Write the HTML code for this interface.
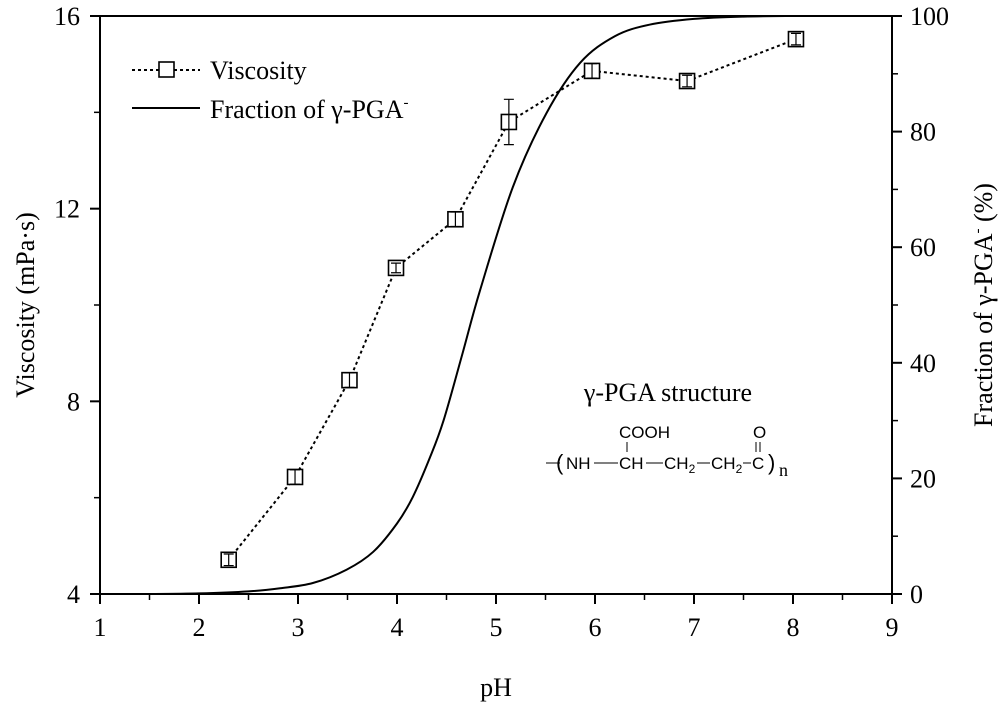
<!DOCTYPE html>
<html><head><meta charset="utf-8"><style>
body{margin:0;background:#fff}
svg{font-family:"Liberation Serif",serif}
.s{font-family:"Liberation Sans",sans-serif;font-size:17px}
</style></head><body>
<svg id="c" width="1000" height="702" xmlns="http://www.w3.org/2000/svg">
<rect x="100" y="16" width="792" height="578" fill="none" stroke="#000" stroke-width="2"/>
<g id="ax"></g>
<g id="marks"></g>
<text x="496" y="696" font-size="26" text-anchor="middle">pH</text>
<text transform="translate(34,305) rotate(-90)" font-size="26" text-anchor="middle">Viscosity (mPa·s)</text>
<text transform="translate(992,305) rotate(-90)" font-size="26" text-anchor="middle">Fraction of γ-PGA<tspan font-size="15" dy="-10">-</tspan><tspan dy="10"> (%)</tspan></text>
<g>
<line x1="132" y1="70" x2="200" y2="70" stroke="#000" stroke-width="2" stroke-dasharray="3,3"/>
<rect x="159" y="62" width="15" height="15" fill="#fff" stroke="#000" stroke-width="1.6"/>
<text x="210" y="79" font-size="26">Viscosity</text>
<line x1="132" y1="108" x2="200" y2="108" stroke="#000" stroke-width="2"/>
<text x="210" y="118" font-size="26">Fraction of γ-PGA<tspan font-size="15" dy="-11">-</tspan></text>
</g>
<g>
<text x="668" y="401" font-size="26" text-anchor="middle">γ-PGA structure</text>
<g class="s">
<text x="619" y="438">COOH</text>
<line x1="627" y1="442" x2="627" y2="452" stroke="#000"/>
<line x1="546" y1="463" x2="560" y2="463" stroke="#000"/>
<text x="556" y="470" font-size="22">(</text>
<text x="566" y="469">NH</text>
<line x1="594" y1="463" x2="618" y2="463" stroke="#000"/>
<text x="619" y="469">CH</text>
<line x1="646" y1="463" x2="663" y2="463" stroke="#000"/>
<text x="664" y="469">CH<tspan font-size="12" dy="4">2</tspan></text>
<line x1="697" y1="463" x2="710" y2="463" stroke="#000"/>
<text x="711" y="469">CH<tspan font-size="12" dy="4">2</tspan></text>
<line x1="743" y1="463" x2="751" y2="463" stroke="#000"/>
<text x="752" y="469">C</text>
<text x="753" y="438">O</text>
<line x1="756" y1="442" x2="756" y2="452" stroke="#000"/>
<line x1="760" y1="442" x2="760" y2="452" stroke="#000"/>
<text x="768" y="470" font-size="22">)</text>
<text x="779" y="476" font-family="Liberation Serif" font-size="18">n</text>
</g>
</g>
</svg>
<script>
const phVals=[2.3,2.97,3.52,3.99,4.59,5.13,5.97,6.93,8.03];
const viscVals=[4.71,6.43,8.44,10.77,11.78,13.8,14.86,14.65,15.52];
const viscErr=[0.12,0.15,0.15,0.1,0.15,0.47,0.15,0.12,0.12];
const fracPH=[1,1.5,2,2.5,2.82,3.15,3.49,3.76,4.0,4.16,4.33,4.47,4.66,4.84,5.17,5.51,5.85,6.2,6.55,7,7.5,8,8.7];
const fracVals=[0,0,0.1,0.45,1.0,1.9,4.2,7.3,12.2,16.8,23.5,30,41.5,52.6,70.4,83.2,91.9,96.5,98.5,99.5,99.9,100,100];
const xTicks=[1,2,3,4,5,6,7,8,9];
const yTicks=[4,8,12,16];
const y2Ticks=[0,20,40,60,80,100];
const NS="http://www.w3.org/2000/svg";
const X=v=>100+(v-1)*99;
const Y=v=>594-(v-4)*578/12;
const Y2=v=>594-v*5.78;
function mk(t,a,p){const e=document.createElementNS(NS,t);for(const k in a)e.setAttribute(k,a[k]);p.appendChild(e);return e;}
const ax=document.getElementById('ax'),mg=document.getElementById('marks');
xTicks.forEach(t=>{
 const l=mk('line',{x1:X(t),x2:X(t),y1:594,y2:604,stroke:'#000','stroke-width':2},ax);
 
 
 if(t<9){const m=mk('line',{x1:X(t+0.5),x2:X(t+0.5),y1:594,y2:600,stroke:'#000','stroke-width':1.5},ax);
 
 }
 const tx=mk('text',{x:X(t),y:636,'font-size':26,'text-anchor':'middle'},ax);tx.textContent=t;
 
 
});
yTicks.forEach(t=>{
 const l=mk('line',{x1:90,x2:100,y1:Y(t),y2:Y(t),stroke:'#000','stroke-width':2},ax);
 
 
 if(t<16){const m=mk('line',{x1:94,x2:100,y1:Y(t+2),y2:Y(t+2),stroke:'#000','stroke-width':1.5},ax);
 
 }
 const tx=mk('text',{x:80,y:Y(t)+9,'font-size':26,'text-anchor':'end'},ax);tx.textContent=t;
 
 
});
y2Ticks.forEach(t=>{
 const l=mk('line',{x1:892,x2:902,y1:Y2(t),y2:Y2(t),stroke:'#000','stroke-width':2},ax);
 
 
 if(t<100){const m=mk('line',{x1:892,x2:898,y1:Y2(t+10),y2:Y2(t+10),stroke:'#000','stroke-width':1.5},ax);
 
 }
 const tx=mk('text',{x:910,y:Y2(t)+9,'font-size':26},ax);tx.textContent=t;
 
 
});
const pts=fracPH.map((p,i)=>[X(p),Y2(fracVals[i])]);
let d='M'+pts[0][0]+','+pts[0][1];
for(let i=0;i<pts.length-1;i++){const p0=pts[Math.max(i-1,0)],p1=pts[i],p2=pts[i+1],p3=pts[Math.min(i+2,pts.length-1)];
 d+=` C${p1[0]+(p2[0]-p0[0])/6},${p1[1]+(p2[1]-p0[1])/6} ${p2[0]-(p3[0]-p1[0])/6},${p2[1]-(p3[1]-p1[1])/6} ${p2[0]},${p2[1]}`;}
const fc=mk('path',{d:d,fill:'none',stroke:'#000','stroke-width':2},mg);


const vl=mk('polyline',{points:phVals.map((p,i)=>X(p)+','+Y(viscVals[i])).join(' '),fill:'none',stroke:'#000','stroke-width':2,'stroke-dasharray':'3,3'},mg);


phVals.forEach((p,i)=>{
 const cx=X(p),cy=Y(viscVals[i]),e1=Y(viscVals[i]+viscErr[i]),e2=Y(viscVals[i]-viscErr[i]);
 const r=mk('rect',{x:cx-7.5,y:cy-7.5,width:15,height:15,fill:'#fff',stroke:'#000','stroke-width':1.6},mg);
 
 
 const eb=mk('path',{d:`M${cx},${e1}V${e2}M${cx-5},${e1}H${cx+5}M${cx-5},${e2}H${cx+5}`,stroke:'#000','stroke-width':1.2,fill:'none'},mg);
 
 
});
</script>
</body></html>
